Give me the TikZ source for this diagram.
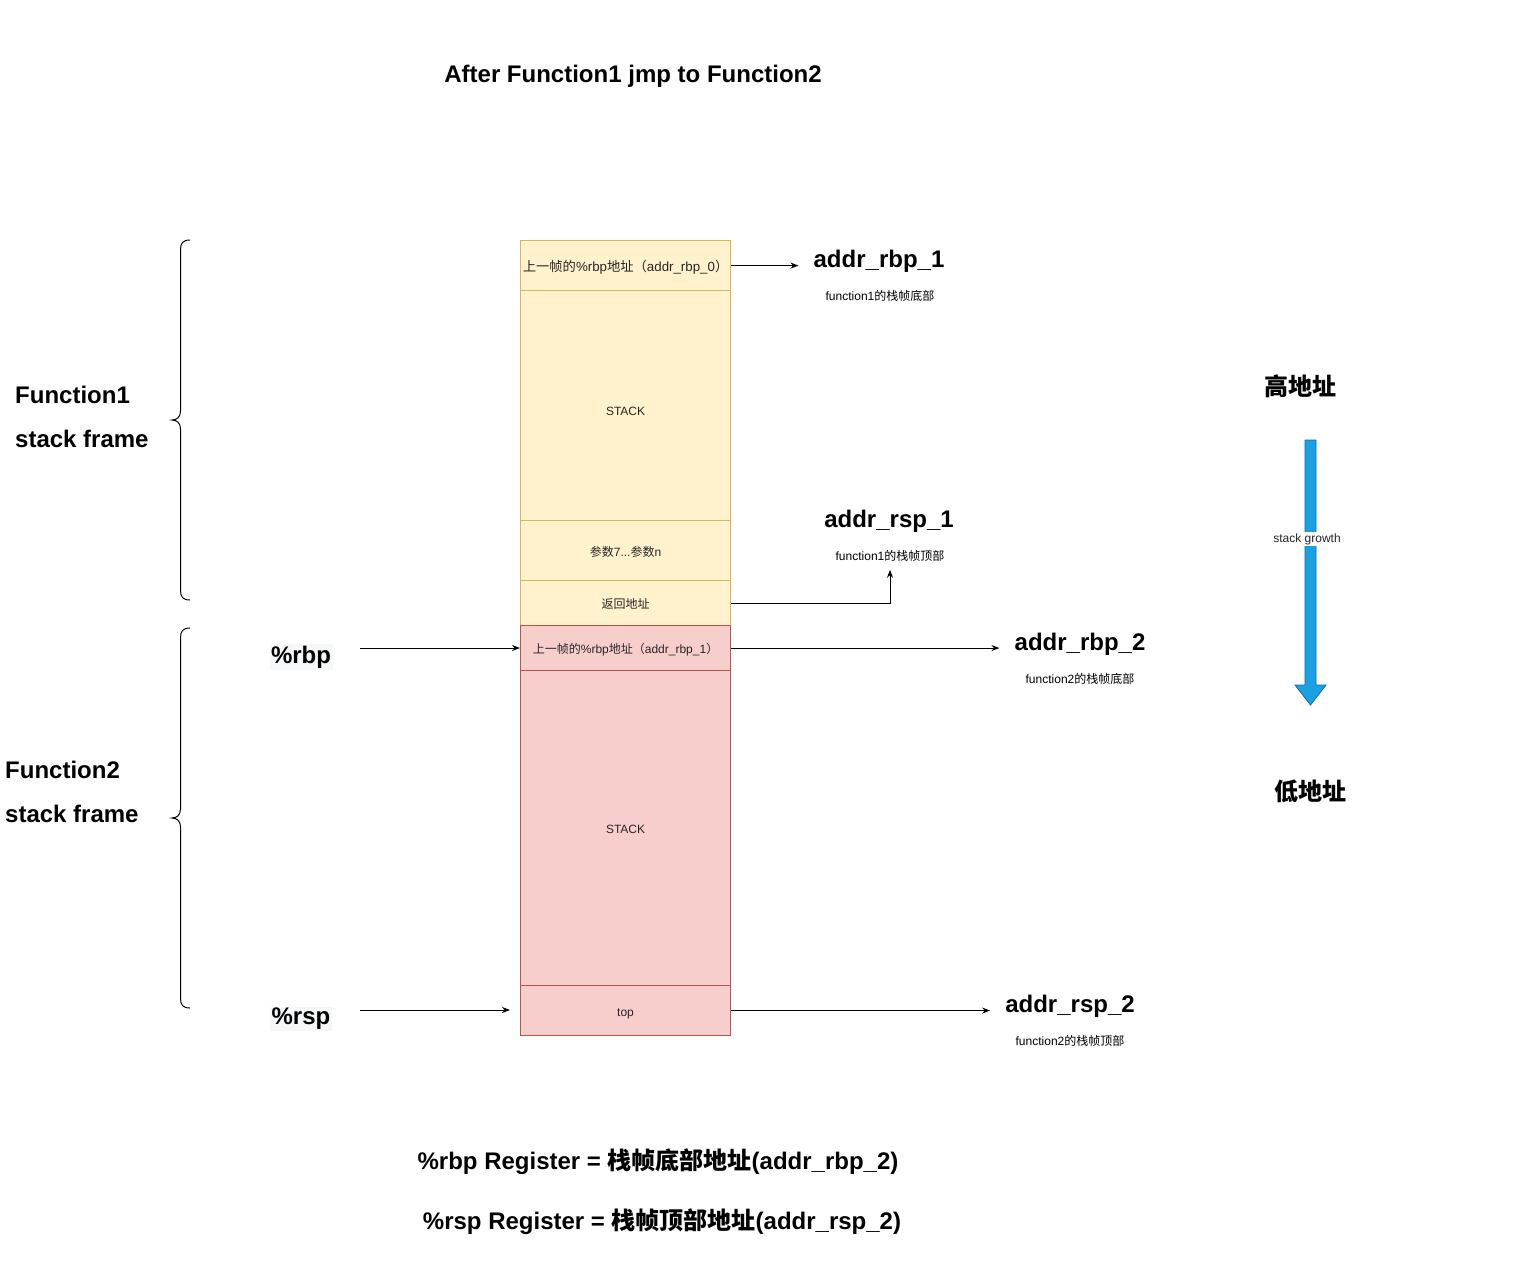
\documentclass[tikz,border=0pt]{standalone}
\usepackage{fontspec}
\setmainfont{Liberation Sans}
\newfontfamily\cjk{Noto Sans CJK SC}
\usetikzlibrary{arrows.meta}
\definecolor{yfill}{HTML}{FFF2CC}
\definecolor{yline}{HTML}{D6B656}
\definecolor{rfill}{HTML}{F8CECC}
\definecolor{rline}{HTML}{B85450}
\definecolor{bfill}{HTML}{1BA1E2}
\definecolor{bline}{HTML}{006EAF}
\definecolor{lbg}{HTML}{F6F7F8}
\begin{document}
\begin{tikzpicture}[x=1bp,y=-1bp,
  bigtxt/.style={font=\fontsize{24bp}{28bp}\selectfont\bfseries, inner sep=0pt, yshift=-2bp},
  smalltxt/.style={font=\fontsize{12bp}{14bp}\selectfont, inner sep=0pt, yshift=-1bp},
  cellbase/.style={minimum width=210bp, anchor=north west, inner sep=0pt, line width=1.1bp,
    font=\fontsize{12bp}{14bp}\selectfont, text=black!85, text height=11.6bp, text depth=0bp},
  celly/.style={cellbase, draw=yline, fill=yfill},
  cellr/.style={cellbase, draw=rline, fill=rfill},
  arr/.style={draw=black, line width=1bp, -{Stealth[length=8bp,width=6bp]}},
  bracestyle/.style={draw=black, line width=1bp}
]
\useasboundingbox (0,0) rectangle (1521,1271);

% title
\node[bigtxt] (title) at (633,74) {After Function1 jmp to Function2};

% stack cells
\node[celly, minimum height=50bp, font=\fontsize{13.3bp}{15bp}\selectfont, text height=12bp] (c1) at (520,240) {{\cjk 上一帧的}\%rbp{\cjk 地址（}addr\_rbp\_0{\cjk ）}};
\node[celly, minimum height=230bp, text height=20.6bp] (c2) at (520,290) {STACK};
\node[celly, minimum height=60bp] (c3) at (520,520) {{\cjk 参数}7...{\cjk 参数}n};
\node[celly, minimum height=45bp] (c4) at (520,580) {{\cjk 返回地址}};
\node[cellr, minimum height=45bp] (r1) at (520,625) {{\cjk 上一帧的}\%rbp{\cjk 地址（}addr\_rbp\_1{\cjk ）}};
\node[cellr, minimum height=315bp] (r2) at (520,670) {STACK};
\node[cellr, minimum height=50bp] (r3) at (520,985) {top};

% address labels
\node[bigtxt] (a1) at (879,259) {addr\_rbp\_1};
\node[smalltxt] (a1s) at (880,295) {function1{\cjk 的栈帧底部}};
\node[bigtxt] (a2) at (889,519) {addr\_rsp\_1};
\node[smalltxt] (a2s) at (890,555) {function1{\cjk 的栈帧顶部}};
\node[bigtxt] (a3) at (1080,642) {addr\_rbp\_2};
\node[smalltxt] (a3s) at (1080,678) {function2{\cjk 的栈帧底部}};
\node[bigtxt] (a4) at (1070,1004) {addr\_rsp\_2};
\node[smalltxt] (a4s) at (1070,1040) {function2{\cjk 的栈帧顶部}};

% connectors from cells
\draw[arr, shorten >=15bp] (c1.east) -- (c1.east -| a1.west);
\draw[arr, shorten >=8bp] (c4.east) -| (a2s.south);
\draw[arr, shorten >=15bp] (r1.east) -- (r1.east -| a3.west);
\draw[arr, shorten >=15bp] (r3.east) -- (r3.east -| a4.west);

% register labels
\node[bigtxt, fill=lbg, inner sep=1.5bp] (rbp) at (301,655) {\%rbp};
\node[bigtxt, fill=lbg, inner sep=1.5bp] (rsp) at (301,1017) {\%rsp};
\coordinate (rbpstart) at (360,648);
\coordinate (rspstart) at (360,1010);
\draw[arr] (rbpstart) -- (rbpstart -| r1.west);
\draw[arr, shorten >=10bp] (rspstart) -- (rspstart -| r3.west);

% frame labels
\node[bigtxt, anchor=west] (f1a) at (15,393) {Function1};
\node[bigtxt, anchor=west] (f1b) at (15,437) {stack frame};
\node[bigtxt, anchor=west] (f2a) at (5,768) {Function2};
\node[bigtxt, anchor=west] (f2b) at (5,812) {stack frame};

% braces
\draw[bracestyle] (190,240) .. controls (183,240) and (180.5,243) .. (180.5,250) -- (180.5,411)
  .. controls (180.5,417) and (177,420) .. (172,420)
  .. controls (177,420) and (180.5,423) .. (180.5,429) -- (180.5,590)
  .. controls (180.5,597) and (183,600) .. (190,600);
\draw[bracestyle] (190,628) .. controls (183,628) and (180.5,631) .. (180.5,638) -- (180.5,809)
  .. controls (180.5,815) and (177,818) .. (172,818)
  .. controls (177,818) and (180.5,821) .. (180.5,827) -- (180.5,998)
  .. controls (180.5,1005) and (183,1008) .. (190,1008);

% high / low address
\node[bigtxt] (hi) at (1300,384) {\cjk 高地址};
\node[bigtxt] (lo) at (1310,789) {\cjk 低地址};

% stack growth arrow
\fill[bfill, draw=bline, line width=0.8bp] (1305,440) -- (1316,440) -- (1316,685) -- (1326,685)
  -- (1310.5,705) -- (1295,685) -- (1305,685) -- cycle;
\node[smalltxt, fill=white, inner sep=1.5bp, text=black!85] (sg) at (1307,538) {stack growth};

% bottom equations
\node[bigtxt] (eq1) at (658,1160) {\%rbp Register = {\cjk 栈帧底部地址}(addr\_rbp\_2)};
\node[bigtxt] (eq2) at (662,1220) {\%rsp Register = {\cjk 栈帧顶部地址}(addr\_rsp\_2)};
\end{tikzpicture}
\end{document}
